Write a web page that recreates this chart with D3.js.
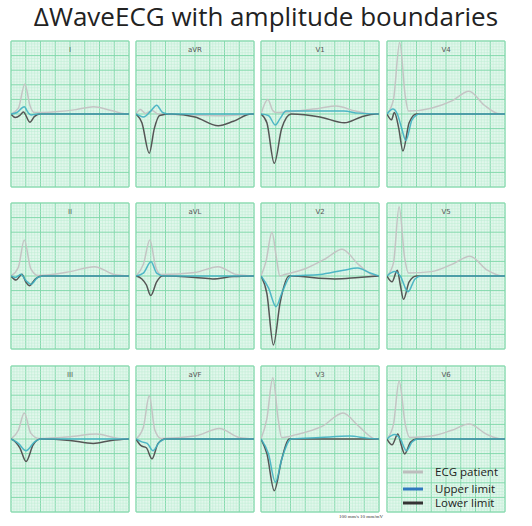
<!DOCTYPE html>
<html><head><meta charset="utf-8">
<script src="https://cdn.jsdelivr.net/npm/d3@7"></script>
<style>body{margin:0;background:#fff}</style>
</head><body>
<svg id="c" width="532" height="526"></svg>
<script>
const leads = ["I","aVR","V1","V4","II","aVL","V2","V5","III","aVF","V3","V6"];
// keypoints: [ms, mV]
const patient = {
 I:[[0,0],[25,0.2],[47,1.03],[64,0.3],[78,0.05],[150,0.08],[220,0.15],[280,0.25],[340,0.12],[395,0],[400,0]],
 aVR:[[0,0],[15,0.15],[32,0.02],[55,0.12],[75,0],[200,-0.03],[280,-0.06],[400,0]],
 V1:[[0,0],[23,0.5],[40,0.12],[51,0.05],[120,0.1],[200,0.2],[254,0.27],[320,0.1],[375,0],[400,0]],
 V4:[[0,0],[22,0.5],[43,2.45],[62,0.6],[73,0.1],[150,0.2],[220,0.45],[278,0.78],[330,0.3],[375,0.02],[400,0]],
 II:[[0,0],[25,0.3],[45,1.23],[67,0.25],[91,0.02],[200,0.15],[283,0.32],[350,0.05],[400,0]],
 aVL:[[0,0],[25,0.4],[47,1.23],[67,0.3],[85,0.05],[200,0.12],[278,0.32],[340,0.05],[400,0]],
 V2:[[0,0],[17,0.5],[37,1.5],[54,0.5],[64,0],[80,0.05],[150,0.25],[220,0.6],[275,0.92],[330,0.4],[390,0],[400,0]],
 V5:[[0,0],[22,0.45],[41,2.37],[60,0.6],[73,0.1],[150,0.15],[220,0.4],[281,0.68],[340,0.2],[390,0],[400,0]],
 III:[[0,0],[25,0.3],[45,0.89],[67,0.2],[95,0.02],[200,0.08],[290,0.17],[360,0.03],[400,0]],
 aVF:[[0,0],[25,0.4],[45,1.48],[64,0.3],[85,0.02],[200,0.1],[283,0.36],[350,0.05],[400,0]],
 V3:[[0,0],[20,0.7],[40,2.1],[58,0.7],[70,0.05],[120,0.15],[210,0.45],[278,0.89],[330,0.45],[390,0],[400,0]],
 V6:[[0,0],[22,0.5],[41,1.99],[62,0.5],[77,0.05],[150,0.1],[220,0.3],[278,0.51],[340,0.15],[390,0],[400,0]]
};
const upper = {
 I:[[0,0],[20,0.05],[45,0.25],[58,0.05],[68,-0.03],[90,0],[400,0]],
 aVR:[[0,0],[25,-0.1],[50,0.1],[70,0.3],[90,0.05],[110,0],[400,0]],
 V1:[[0,0],[25,-0.05],[49,-0.38],[65,-0.15],[85,0.1],[280,0.1],[330,0.03],[400,0]],
 V4:[[0,0],[20,0.17],[35,0],[50,-0.5],[64,-0.91],[85,-0.2],[111,0],[400,0]],
 II:[[0,0],[15,-0.05],[34,0.06],[50,-0.15],[68,-0.28],[90,-0.05],[110,0],[400,0]],
 aVL:[[0,0],[25,0.1],[51,0.49],[70,0.1],[95,0],[400,0]],
 V2:[[0,0],[25,-0.4],[51,-1.05],[70,-0.6],[102,0],[200,0.05],[280,0.2],[328,0.27],[370,0.1],[400,0]],
 V5:[[0,0],[26,0.15],[45,0],[71,-0.54],[95,-0.1],[115,0],[400,0]],
 III:[[0,0],[25,-0.15],[51,-0.4],[80,-0.1],[100,0],[400,0]],
 aVF:[[0,0],[20,-0.1],[38,-0.15],[57,-0.4],[80,-0.1],[100,0],[400,0]],
 V3:[[0,0],[25,-0.5],[49,-1.48],[70,-0.7],[102,0],[200,0.05],[300,0.1],[360,0.03],[400,0]],
 V6:[[0,0],[26,0.15],[45,0],[66,-0.4],[85,-0.1],[105,0],[400,0]]
};
const lower = {
 I:[[0,0],[15,-0.12],[30,-0.05],[42,0.07],[64,-0.28],[80,-0.08],[100,0],[400,0]],
 aVR:[[0,0],[20,-0.3],[45,-1.34],[62,-0.5],[80,-0.05],[120,0],[200,-0.1],[279,-0.4],[330,-0.25],[390,0],[400,0]],
 V1:[[0,0],[20,-0.3],[45,-1.69],[70,-0.5],[102,0],[200,-0.1],[283,-0.3],[340,-0.1],[390,0],[400,0]],
 V4:[[0,0],[15,-0.2],[25,0.05],[40,-0.5],[54,-1.27],[75,-0.3],[100,0],[400,0]],
 II:[[0,0],[17,-0.14],[37,0.06],[50,-0.2],[62,-0.33],[85,-0.08],[108,0],[400,0]],
 aVL:[[0,0],[20,-0.1],[35,-0.3],[50,-0.67],[70,-0.2],[90,0],[200,-0.05],[260,-0.1],[330,-0.02],[400,0]],
 V2:[[0,0],[20,-0.6],[42,-2.36],[65,-0.9],[95,0],[250,-0.1],[330,-0.05],[400,0]],
 V5:[[0,0],[17,-0.2],[35,0.2],[45,-0.3],[56,-0.8],[75,-0.2],[100,0],[400,0]],
 III:[[0,0],[15,-0.1],[30,-0.3],[51,-0.77],[75,-0.2],[100,0],[200,-0.05],[279,-0.15],[340,-0.05],[400,0]],
 aVF:[[0,0],[17,-0.23],[35,-0.3],[54,-0.68],[75,-0.15],[100,0],[400,0]],
 V3:[[0,0],[20,-0.5],[45,-1.77],[70,-0.7],[95,0],[400,0]],
 V6:[[0,0],[17,-0.2],[37,0.17],[48,-0.2],[60,-0.51],[80,-0.1],[100,0],[400,0]]
};
const legendLabels = ["ECG patient","Upper limit","Lower limit"];
const colors = {patient:"#c4c4c4", upper:"#3fb0c2", lower:"#555555"};
const legendColors = ["#bdbdbd","#2f78bd","#333333"];

const svg = d3.select("#c");
svg.append("text").attr("x",266).attr("y",26).attr("text-anchor","middle")
  .attr("font-family","Open Sans, Liberation Sans, sans-serif").attr("font-size",26).attr("fill","#222")
  .text("ΔWaveECG with amplitude boundaries");

const colX = [11,136,261,387], rowY = [41,203,366];
const W = 118, H = 146;
const x = d3.scaleLinear().domain([0,400]).range([0,W]);
const y = d3.scaleLinear().domain([-2.5,2.5]).range([H,0]);
const line = d3.line().x(d=>x(d[0])).y(d=>y(d[1])).curve(d3.curveMonotoneX);

leads.forEach((ld,i)=>{
  const g = svg.append("g").attr("transform",`translate(${colX[i%4]},${rowY[Math.floor(i/4)]})`);
  g.append("rect").attr("width",W).attr("height",H).attr("fill","#e2f7ec").attr("stroke","#9fe0bd").attr("stroke-width",1).attr("rx",1);
  for (let t=0;t<=400;t+=10){ const mj=t%50===0;
    g.append("line").attr("x1",x(t)).attr("x2",x(t)).attr("y1",0).attr("y2",H)
     .attr("stroke",mj?"#84d9ad":"#bdecd3").attr("stroke-width",mj?1:0.5);}
  for (let k=-25;k<=25;k+=1){ const v=k/10, mj=k%5===0;
    g.append("line").attr("x1",0).attr("x2",W).attr("y1",y(v)).attr("y2",y(v))
     .attr("stroke",mj?"#84d9ad":"#bdecd3").attr("stroke-width",mj?1:0.5);}
  g.append("text").attr("x",W/2).attr("y",11).attr("text-anchor","middle")
   .attr("font-family","DejaVu Sans, sans-serif").attr("font-size",7).attr("fill","#555").text(ld);
  const cid="cl"+i;
  g.append("clipPath").attr("id",cid).append("rect").attr("width",W).attr("height",H);
  const cg=g.append("g").attr("clip-path",`url(#${cid})`);
  [["patient",patient],["lower",lower],["upper",upper]].forEach(([k,src])=>{
    cg.append("path").attr("d",line(src[ld])).attr("fill","none").attr("stroke",colors[k])
      .attr("stroke-width",1.5).attr("stroke-linejoin","round").attr("opacity",k==="upper"?0.9:1);
  });
  if (ld==="V6"){
    legendLabels.forEach((lb,j)=>{
      const yy=[106,123,137][j];
      g.append("line").attr("x1",16).attr("x2",36).attr("y1",yy).attr("y2",yy).attr("stroke",legendColors[j]).attr("stroke-width",3);
      g.append("text").attr("x",48).attr("y",yy+4).attr("font-family","Open Sans, sans-serif").attr("font-size",11.5).attr("fill","#222").text(lb);
    });
  }
});
svg.append("text").attr("x",339).attr("y",518).attr("font-family","Liberation Serif, serif").attr("font-size",5).attr("fill","#333").text("100 mm/s  10 mm/mV");
</script>
</body></html>
